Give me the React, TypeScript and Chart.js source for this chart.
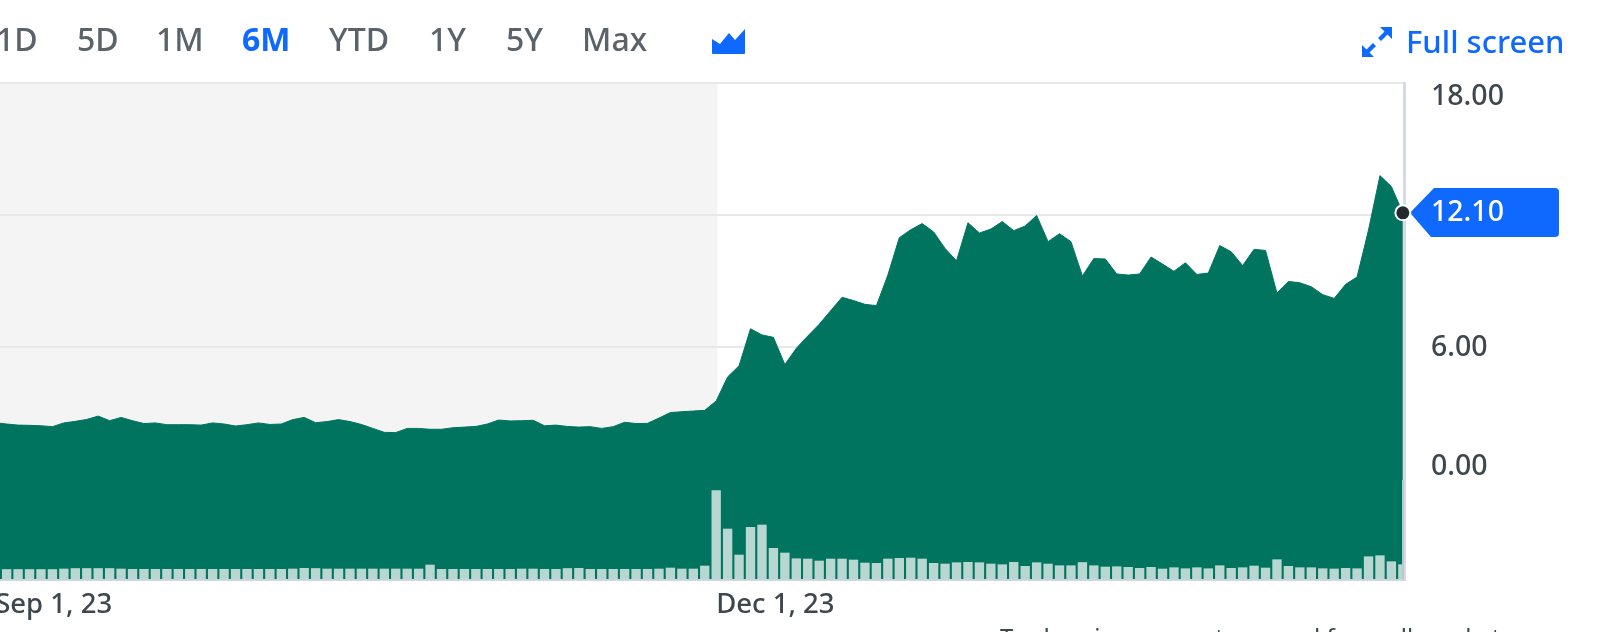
import { useEffect, useRef } from "react"
import { Chart, registerables, type Plugin } from "chart.js"

Chart.register(...registerables)

const FONT = "'Noto Sans', sans-serif"
const BLUE = "#0f69ff"
const TEXT = "#3e464e"

const rangeLabels = ["1D", "5D", "1M", "6M", "YTD", "1Y", "5Y", "Max"]
const rangeLeft = [-4, 77, 156, 242, 329, 429, 506, 582]
const activeRange = "6M"

// Trading day index 0 is Sep 1, 23, index 63 is Dec 1, 23
const prices = [
  2.56, 2.5, 2.45, 2.44, 2.42, 2.38, 2.55, 2.62, 2.71, 2.86, 2.65, 2.8, 2.65, 2.52, 2.55, 2.47, 2.47, 2.47, 2.45, 2.55,
  2.5, 2.41, 2.47, 2.55, 2.48, 2.5, 2.7, 2.8, 2.56, 2.61, 2.7, 2.61, 2.48, 2.3, 2.12, 2.11, 2.3, 2.3, 2.26, 2.26, 2.33,
  2.36, 2.39, 2.5, 2.68, 2.64, 2.65, 2.67, 2.42, 2.45, 2.39, 2.36, 2.38, 2.3, 2.38, 2.58, 2.52, 2.53, 2.77, 3.02, 3.06,
  3.09, 3.12, 3.55, 4.64, 5.15, 6.83, 6.55, 6.44, 5.2, 5.94, 6.5, 7.03, 7.65, 8.26, 8.11, 7.94, 7.88, 9.27, 10.97,
  11.33, 11.61, 11.23, 10.48, 9.92, 11.65, 11.18, 11.36, 11.7, 11.29, 11.5, 11.98, 10.79, 11.15, 10.79, 9.23, 10.02,
  10.0, 9.32, 9.27, 9.32, 10.09, 9.77, 9.44, 9.83, 9.3, 9.36, 10.61, 10.33, 9.7, 10.44, 10.39, 8.45, 8.98, 8.92, 8.74,
  8.38, 8.21, 8.85, 9.18, 11.32, 13.79, 13.29, 12.1,
]

const volumes = [
  10.5, 10.5, 10.5, 10.5, 10.5, 10.5, 11, 11.5, 11.5, 11.5, 11.5, 11, 10.7, 10.7, 10.7, 10.7, 10.7, 10.7, 10.7, 10.7,
  10.7, 10.7, 10.7, 10.7, 10.7, 10.7, 11, 11.7, 11.5, 11, 11, 11, 11, 11, 11, 11, 11, 11, 15, 10.7, 10.7, 10.7, 10.7,
  10.7, 10.7, 10.7, 11, 11, 10.7, 10.7, 11.5, 11.7, 10.7, 10.7, 10.7, 10.7, 10.7, 10.7, 11, 12, 11, 11, 14, 89.5, 51,
  25, 52.7, 55, 31.7, 27, 21.3, 21, 19, 21, 21, 20, 17, 16.7, 21, 21.7, 22, 21, 16.7, 16, 17.3, 17.7, 17.3, 16, 15.3,
  17.7, 13.7, 17.3, 16, 14.3, 14.3, 17.5, 14.3, 13, 13.3, 12.7, 11.7, 12.7, 11, 12.3, 11.3, 12.3, 11.3, 14.3, 11.7,
  12.3, 14, 12, 20.3, 13.7, 12.3, 12.3, 11.3, 11, 11.7, 11.3, 23.3, 24.3, 18.3, 15.3,
]

const days = prices.map((_, i) => i)
const dateTicks = [0, 63]
const dateLabels = ["Sep 1, 23", "Dec 1, 23"]
const priceTicks = [18, 12, 6, 0]
const priceLabels = ["18.00", "", "6.00", "0.00"]
const priceLabelShift = [14, 0, 1, -12]
const lastPrice = prices[prices.length - 1]

const overlays: Plugin<"line"> = {
  id: "overlays",
  beforeDraw(chart) {
    // lighter band for the earlier part of the range
    const { ctx, chartArea } = chart
    ctx.save()
    ctx.fillStyle = "#f4f4f4"
    ctx.fillRect(0, chartArea.top, chart.scales.x.getPixelForValue(63.1), chartArea.height)
    ctx.restore()
  },
  beforeDatasetsDraw(chart) {
    const { ctx, chartArea } = chart
    const y = chart.scales.y.getPixelForValue(lastPrice)
    const tip = chartArea.right + 6

    // price tag
    ctx.save()
    ctx.beginPath()
    ctx.moveTo(tip, y)
    ctx.lineTo(tip + 24, 188)
    ctx.lineTo(1555, 188)
    ctx.quadraticCurveTo(1559, 188, 1559, 192)
    ctx.lineTo(1559, 233)
    ctx.quadraticCurveTo(1559, 237, 1555, 237)
    ctx.lineTo(tip + 21, 237)
    ctx.closePath()
    ctx.fillStyle = BLUE
    ctx.fill()
    ctx.textBaseline = "middle"
    ctx.font = `500 28.5px ${FONT}`
    ctx.fillStyle = "#ffffff"
    ctx.fillText(lastPrice.toFixed(2), 1431, y)

    // axis labels sit on the grid except where the pane edge pushes them in
    ctx.fillStyle = TEXT
    priceTicks.forEach((tick, i) => {
      if (priceLabels[i]) ctx.fillText(priceLabels[i], 1431, chart.scales.y.getPixelForValue(tick) + priceLabelShift[i])
    })
    ctx.restore()
  },
  afterDatasetsDraw(chart) {
    // edge of the volume pane
    const { ctx, chartArea } = chart
    ctx.save()
    ctx.strokeStyle = "#b9c6cc"
    ctx.lineWidth = 2
    ctx.beginPath()
    ctx.moveTo(chartArea.right - 1, chart.scales.yVol.getPixelForValue(100))
    ctx.lineTo(chartArea.right - 1, chartArea.bottom)
    ctx.stroke()
    ctx.restore()
  },
}

function PriceChart() {
  const canvasRef = useRef<HTMLCanvasElement>(null)

  useEffect(() => {
    if (!canvasRef.current) return

    const chart = new Chart(canvasRef.current, {
      type: "line",
      data: {
        datasets: [
          {
            type: "bar",
            label: "Volume",
            data: days.map((d) => ({ x: d, y: volumes[d] })),
            yAxisID: "yVol",
            backgroundColor: "#b7d7d0",
            barThickness: 8.7,
            order: 1,
          },
          {
            type: "line",
            label: "Price",
            data: days.map((d) => ({ x: d, y: prices[d] })),
            yAxisID: "y",
            borderColor: "#01745f",
            borderWidth: 1,
            backgroundColor: "#01745f",
            fill: "start",
            tension: 0,
            clip: false,
            pointRadius: days.map((d) => (d === days.length - 1 ? 7.5 : 0)),
            pointBackgroundColor: "#232a31",
            pointBorderColor: "#ffffff",
            pointBorderWidth: 2,
            order: 2,
          },
        ],
      },
      options: {
        responsive: false,
        animation: false,
        layout: { autoPadding: false, padding: { top: 83 } },
        plugins: {
          legend: { display: false },
          tooltip: { enabled: false },
        },
        scales: {
          x: {
            type: "linear",
            min: 0.42,
            max: 123.1,
            offset: false,
            afterBuildTicks: (scale) => {
              scale.ticks = dateTicks.map((value) => ({ value }))
            },
            afterFit: (scale) => {
              scale.height = 52
              scale.paddingLeft = 0
              scale.paddingRight = 0
            },
            grid: { display: false, offset: false },
            border: { display: true, color: "#cdd6da", width: 2, z: 1 },
            ticks: {
              autoSkip: false,
              maxRotation: 0,
              align: "start",
              padding: 1,
              color: TEXT,
              font: { family: "Noto Sans", size: 27.5, weight: 500 },
              callback: (value) => dateLabels[dateTicks.indexOf(Number(value))],
            },
          },
          y: {
            position: "right",
            min: -4.59,
            max: 18,
            afterBuildTicks: (scale) => {
              scale.ticks = priceTicks.map((value) => ({ value }))
            },
            afterFit: (scale) => {
              scale.width = 196
            },
            grid: { color: "#e8e8e8", lineWidth: 2, drawTicks: false },
            border: { display: true, color: "#d7dae6", width: 3 },
            ticks: { display: false },
          },
          yVol: {
            display: false,
            min: 0,
            max: 497,
          },
        },
      },
      plugins: [overlays],
    })

    return () => chart.destroy()
  }, [])

  return <canvas ref={canvasRef} width={1600} height={632} style={{ position: "absolute", left: 0, top: 0 }} />
}

export default function App() {
  return (
    <div style={{ position: "relative", width: 1600, height: 632, overflow: "hidden", fontFamily: FONT }}>
      <style>{"body{margin:0;overflow:hidden}"}</style>
      <PriceChart />
      {rangeLabels.map((label, i) => (
        <span
          key={label}
          style={{
            position: "absolute",
            left: rangeLeft[i],
            top: 18,
            fontSize: 32,
            lineHeight: "42px",
            fontWeight: label === activeRange ? 700 : 500,
            color: label === activeRange ? BLUE : "#5b636a",
          }}
        >
          {label}
        </span>
      ))}
      <svg width={34} height={26} viewBox="0 0 34 26" style={{ position: "absolute", left: 712, top: 29 }}>
        <path d="M0 10 L8 15 L17 4 L23 11 L33 0 L33 24 Q33 25 32 25 L1 25 Q0 25 0 24 Z" fill={BLUE} />
      </svg>
      <svg width={32} height={32} viewBox="0 0 32 32" style={{ position: "absolute", left: 1361, top: 26 }}>
        <path d="M19 1 H31 V13 L26.5 8.5 L20 15 L17 12 L23.5 5.5 Z M13 31 H1 V19 L5.5 23.5 L12 17 L15 20 L8.5 26.5 Z" fill={BLUE} />
      </svg>
      <span
        style={{ position: "absolute", left: 1406, top: 20, fontSize: 31, lineHeight: "42px", fontWeight: 500, color: BLUE }}
      >
        Full screen
      </span>
      <span
        style={{ position: "absolute", left: 1000, top: 620, fontSize: 24, lineHeight: "34px", color: TEXT, whiteSpace: "nowrap" }}
      >
        Trade prices are not sourced from all markets
      </span>
    </div>
  )
}
